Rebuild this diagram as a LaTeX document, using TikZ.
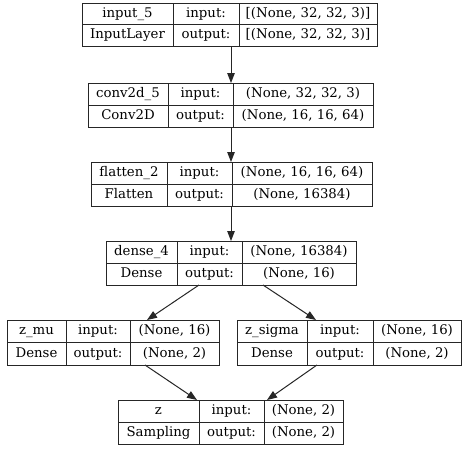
\documentclass[tikz,border=0pt]{standalone}
\usepackage{fontspec}
\setmainfont{DejaVu Serif}
\usetikzlibrary{arrows.meta}
\tikzset{
  frame/.style={draw=black!85, line width=1pt, inner sep=0pt, outer sep=0pt},
  frameline/.style={draw=black!85, line width=1pt},
  cell/.style={inner sep=0pt, font=\fontsize{13.3}{15}\selectfont},
  conn/.style={draw=black!85, line width=1pt, -{Triangle[length=10pt,width=7.5pt]}}
}
\newcommand\kbox[7]{%
  \pgfmathsetmacro\kym{(#6+#7)/2}%
  \node[frame, minimum width={(#5-#2)*1pt}, minimum height={(#7-#6)*1pt}, anchor=north west] (#1) at (#2,#6) {};
  \draw[frameline] (#3,#6) -- (#3,#7) (#4,#6) -- (#4,#7) (#2,\kym) -- (#5,\kym);
  \coordinate (#1-11) at ({(#2+#3)/2},{(#6+\kym)/2+0.5});
  \coordinate (#1-12) at ({(#3+#4)/2},{(#6+\kym)/2+0.5});
  \coordinate (#1-13) at ({(#4+#5)/2},{(#6+\kym)/2+0.5});
  \coordinate (#1-21) at ({(#2+#3)/2},{(\kym+#7)/2+0.5});
  \coordinate (#1-22) at ({(#3+#4)/2},{(\kym+#7)/2+0.5});
  \coordinate (#1-23) at ({(#4+#5)/2},{(\kym+#7)/2+0.5});
}
\newcommand\kcells[7]{%
  \node[cell] (#1-t11) at (#1-11) {\strut #2};
  \node[cell] (#1-t12) at (#1-12) {\strut #3};
  \node[cell] (#1-t13) at (#1-13) {\strut #4};
  \node[cell] (#1-t21) at (#1-21) {\strut #5};
  \node[cell] (#1-t22) at (#1-22) {\strut #6};
  \node[cell] (#1-t23) at (#1-23) {\strut #7};
}
\begin{document}
\begin{tikzpicture}[x=1pt,y=-1pt]
\useasboundingbox[fill=white] (0,0) rectangle (474,464);
\kbox{inp}{82}{173}{239}{377}{3}{46}
\kcells{inp}{input\_5}{input:}{[(None, 32, 32, 3)]}{InputLayer}{output:}{[(None, 32, 32, 3)]}
\kbox{conv}{88}{168}{233}{373}{83}{127}
\kcells{conv}{conv2d\_5}{input:}{(None, 32, 32, 3)}{Conv2D}{output:}{(None, 16, 16, 64)}
\kbox{flat}{91}{167}{232}{372}{162}{206}
\kcells{flat}{flatten\_2}{input:}{(None, 16, 16, 64)}{Flatten}{output:}{(None, 16384)}
\kbox{dense}{106}{177}{242}{356}{241}{285}
\kcells{dense}{dense\_4}{input:}{(None, 16384)}{Dense}{output:}{(None, 16)}
\kbox{zmu}{7}{66}{130}{219}{320}{365}
\kcells{zmu}{z\_mu}{input:}{(None, 16)}{Dense}{output:}{(None, 2)}
\kbox{zsig}{237}{307}{373}{461}{320}{365}
\kcells{zsig}{z\_sigma}{input:}{(None, 16)}{Dense}{output:}{(None, 2)}
\kbox{z}{118}{199}{264}{343}{400}{444}
\kcells{z}{z}{input:}{(None, 2)}{Sampling}{output:}{(None, 2)}
% connectors
\draw[conn] (inp.south -| 231,0) -- (conv.north -| 231,0);
\draw[conn] (conv.south -| 231,0) -- (flat.north -| 231,0);
\draw[conn] (flat.south -| 231,0) -- (dense.north -| 231,0);
\draw[conn] (dense.south -| 199,0) -- (zmu.north -| 147,0);
\draw[conn] (dense.south -| 263,0) -- (zsig.north -| 316,0);
\draw[conn] (zmu.south -| 145,0) -- (z.north -| 197,0);
\draw[conn] (zsig.south -| 317,0) -- (z.north -| 267,0);
\end{tikzpicture}
\end{document}
